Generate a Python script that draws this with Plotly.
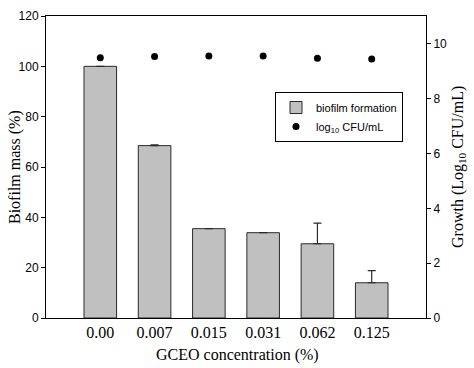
import plotly.graph_objects as go

categories = ["0.00", "0.007", "0.015", "0.031", "0.062", "0.125"]
biofilm_mass = [100.0, 68.5, 35.5, 33.9, 29.5, 14.0]
biofilm_err = [None, 0.3, None, None, 8.2, 4.8]
log_cfu = [9.50, 9.54, 9.56, 9.56, 9.48, 9.45]
left_ticks = [0, 20, 40, 60, 80, 100, 120]
right_ticks = [0, 2, 4, 6, 8, 10]

xpos = list(range(len(categories)))

serif = "Liberation Serif, Times New Roman, serif"
sans = "Liberation Sans Narrow, Arial Narrow, Liberation Sans, Arial, sans-serif"
sans_legend = "Liberation Sans, Arial, sans-serif"

L, R, T, B = 46, 48, 16, 50
W, H = 474, 368
pw, ph = W - L - R, H - T - B

def px_x(x):
    return (x - L) / pw

def px_y(y):
    return (H - B - y) / ph

fig = go.Figure()
fig.add_trace(go.Bar(
    x=xpos, y=biofilm_mass, width=0.6, name="biofilm formation",
    marker=dict(color="#c0c0c0", line=dict(color="#2a2a2a", width=1)),
    error_y=dict(type="data", array=biofilm_err, arrayminus=[0]*len(biofilm_err),
                 symmetric=False, color="#2a2a2a", thickness=1.2, width=4),
))
fig.add_trace(go.Scatter(
    x=xpos, y=log_cfu, mode="markers", name="log<sub>10</sub> CFU/mL", yaxis="y2",
    marker=dict(symbol="circle", size=7, color="black"),
))

title_font = dict(family=serif, size=16, color="black")

fig.update_layout(
    width=W, height=H,
    margin=dict(l=L, r=R, t=T, b=B),
    plot_bgcolor="white", paper_bgcolor="white",
    showlegend=True,
    legend=dict(x=px_x(275), y=px_y(92), xanchor="left", yanchor="top",
                bordercolor="black", borderwidth=1, bgcolor="white",
                font=dict(family=sans_legend, size=11, color="black"),
                tracegroupgap=0, itemwidth=30),
    xaxis=dict(range=[-1, 6], tickvals=xpos, ticktext=categories,
               showline=True, linecolor="black", linewidth=1, mirror=True,
               ticks="", showgrid=False, zeroline=False, automargin=False,
               tickfont=dict(family=serif, size=16, color="black")),
    yaxis=dict(range=[0, 120], tickvals=left_ticks,
               showline=True, linecolor="black", linewidth=1,
               ticks="outside", ticklen=4, tickcolor="black",
               showgrid=False, zeroline=False, automargin=False,
               tickfont=dict(family=sans, size=12, color="black")),
    yaxis2=dict(range=[0, 11.02], tickvals=right_ticks, overlaying="y", side="right",
                showline=True, linecolor="black", linewidth=1,
                ticks="outside", ticklen=4, tickcolor="black",
                showgrid=False, zeroline=False, automargin=False,
                tickfont=dict(family=sans, size=12, color="black")),
    annotations=[
        dict(text="Biofilm mass (%)", xref="paper", yref="paper",
             x=px_x(15), y=px_y(167), textangle=-90, showarrow=False,
             xanchor="center", yanchor="middle", font=title_font),
        dict(text="Growth (Log<sub>10</sub> CFU/mL)", xref="paper", yref="paper",
             x=px_x(458), y=px_y(167), textangle=-90, showarrow=False,
             xanchor="center", yanchor="middle", font=title_font),
        dict(text="GCEO concentration (%)", xref="paper", yref="paper",
             x=px_x(237), y=px_y(355), showarrow=False,
             xanchor="center", yanchor="middle", font=title_font),
    ],
)

fig.write_html("out.html",
               config={"displayModeBar": False},
               post_script="document.body.style.margin='0px';document.body.style.overflow='hidden';")
